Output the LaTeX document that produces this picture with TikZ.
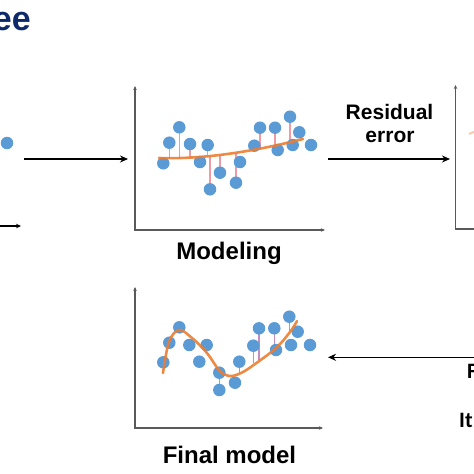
\documentclass[tikz,border=0pt]{standalone}
\usepackage{fontspec}
\setmainfont{Liberation Sans}
\newfontfamily\calib{Carlito}
\usetikzlibrary{arrows.meta}
\pgfdeclarelayer{bg}
\pgfsetlayers{bg,main}
\definecolor{navy}{HTML}{0E2A6B}
\definecolor{dotblue}{HTML}{5B9BD5}
\definecolor{fitorange}{HTML}{ED7D31}
\definecolor{respink}{HTML}{EE9AA4}
\definecolor{respurple}{HTML}{C48CC0}
\definecolor{axisgray}{HTML}{595959}
\begin{document}
\begin{tikzpicture}[x=1pt,y=-1pt,
  datadot/.style={circle,fill=dotblue,inner sep=0pt,minimum size=12.5pt},
  axisline/.style={draw=axisgray,line width=1.6pt,{Stealth[length=4pt,width=3.5pt]}-{Stealth[length=4pt,width=3.5pt]}},
  flow/.style={draw=black,line width=1.2pt,-{Stealth[length=8pt,width=7pt]}},
  fitcurve/.style={draw=fitorange,line width=2.6pt,opacity=0.9,line cap=round},
  resid/.style={draw=respink,line width=1.5pt},
  residb/.style={draw=respurple,line width=1.5pt},
  caption/.style={inner sep=0pt,font=\fontsize{24}{24}\selectfont\bfseries},
  midtext/.style={inner sep=0pt,font=\fontsize{21}{21}\selectfont\bfseries},
  cutext/.style={inner sep=0pt,font=\calib\fontsize{22}{22}\selectfont\bfseries}
]
\useasboundingbox (0,0) rectangle (474,474);
\clip (0,0) rectangle (474,474);

% title fragment
\node[anchor=base east,inner sep=0pt,text=navy,font=\fontsize{34}{34}\selectfont\bfseries] (title) at (31,30.5) {ee};

% left partial chart
\node[datadot] (l1) at (7,143) {};
\coordinate (lx0) at (-10,226);
\coordinate (lx1) at (21,226);
\draw[draw=black,line width=1.2pt,-{Stealth[length=5pt,width=4.5pt]}] (lx0) -- (lx1);

% arrows
\coordinate (a1s) at (24,159);
\coordinate (a1e) at (128,159);
\draw[flow] (a1s) -- (a1e);
\coordinate (a2s) at (328,159);
\coordinate (a2e) at (450,159);
\draw[flow] (a2s) -- (a2e);
\coordinate (a3s) at (480,357.3);
\coordinate (a3e) at (328,357.3);
\draw[flow] (a3s) -- (a3e);

% middle top chart
\coordinate (mY) at (135,86);
\coordinate (mO) at (135,230);
\coordinate (mX) at (325,230);
\draw[axisline] (mY) -- (mO) -- (mX);
\foreach \i/\x/\y in {1/163.3/163.3, 2/169.3/142.7, 3/179.3/127.3, 4/190/144, 5/200/162,
  6/207.7/145, 7/210/189.3, 8/220/172.7, 9/236/182.7, 10/240/162, 11/254.3/145.7,
  12/260/127.7, 13/275/127.7, 14/277.7/150, 15/290/116.7, 16/292.7/145, 17/299.3/132.3, 18/311/145}
  \node[datadot] (m\i) at (\x,\y) {};
\begin{pgfonlayer}{bg}
\foreach \i/\cy in {2/158.2, 3/158, 4/157.6, 6/156.2, 7/156, 8/155, 9/153, 12/148.5, 13/145.7, 15/142}
  \draw[resid] (m\i.center) -- (m\i.center |- 0,\cy);
\end{pgfonlayer}
\draw[fitcurve] (159,158) .. controls (199.7,159.3) and (247.7,153) .. (303,139);
\node[caption,anchor=base] (modeling) at (229,259.5) {Modeling};

% residual error label
\node[midtext,anchor=base] (res1) at (389.5,119.3) {Residual};
\node[midtext,anchor=base] (res2) at (390,142.7) {error};

% right partial chart
\coordinate (rY) at (455.5,85);
\coordinate (rO) at (455.5,229);
\coordinate (rX) at (485,229);
\draw[draw=axisgray,line width=1.6pt,{Stealth[length=4pt,width=3.5pt]}-] (rY) -- (rO) -- (rX);
\draw[draw=fitorange,opacity=0.4,line width=2pt] (469,134) -- (476,131);

% bottom chart
\coordinate (bY) at (135,287);
\coordinate (bO) at (135,428);
\coordinate (bX) at (323,428);
\draw[axisline] (bY) -- (bO) -- (bX);
\foreach \i/\x/\y in {1/163.3/362.3, 2/169.3/342.7, 3/179.3/327.3, 4/189.3/345, 5/199.3/361.7,
  6/206.7/345, 7/219.3/372.7, 8/219.3/390, 9/235/382.7, 10/239.3/361.7, 11/253.3/345.7,
  12/259/328.3, 13/274.3/328.3, 14/276/350, 15/289.3/316.7, 16/291/345, 17/297.7/331.7, 18/310/345}
  \node[datadot] (f\i) at (\x,\y) {};
\begin{pgfonlayer}{bg}
\foreach \i/\cy in {6/353, 8/370, 10/373, 11/363, 12/360, 13/348, 15/331}
  \draw[residb] (f\i.center) -- (f\i.center |- 0,\cy);
\end{pgfonlayer}
\draw[fitcurve] plot[smooth,tension=0.6] coordinates {(163,373) (169,342) (179,330) (192,338) (207,353) (219,370) (229,376) (241,373) (255,364) (276,348) (290,332) (297,321)};
\node[caption,anchor=base] (final) at (229.5,463) {Final model};

% cut-off right texts
\node[cutext,anchor=base west] (ftext) at (467,378.5) {F};
\node[cutext,anchor=base west] (ittext) at (459,427.5) {It};
\end{tikzpicture}
\end{document}
